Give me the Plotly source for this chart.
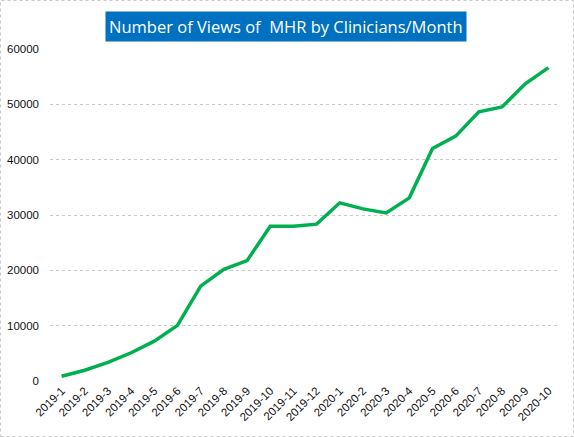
import plotly.graph_objects as go

months = ["2019-1", "2019-2", "2019-3", "2019-4", "2019-5", "2019-6", "2019-7",
          "2019-8", "2019-9", "2019-10", "2019-11", "2019-12", "2020-1", "2020-2",
          "2020-3", "2020-4", "2020-5", "2020-6", "2020-7", "2020-8", "2020-9", "2020-10"]
views = [860, 1950, 3350, 5100, 7200, 10050, 17150, 20170, 21750, 27970, 27980, 28350,
         32200, 31100, 30380, 33100, 42030, 44260, 48650, 49520, 53700, 56640]
y_ticks = [0, 10000, 20000, 30000, 40000, 50000, 60000]
y_labels = ["0", "10000", "20000", "30000", "40000", "50000", "60000"]
title_text = "Number of Views of\u00a0 MHR by Clinicians/Month"

fig = go.Figure()
fig.add_trace(go.Scatter(x=months, y=views, mode="lines",
                         line=dict(color="#00B050", width=3.5)))

fig.update_layout(
    width=574, height=437,
    margin=dict(l=50, r=14, t=49, b=56),
    paper_bgcolor="white", plot_bgcolor="white",
    showlegend=False,
    font=dict(family="Liberation Sans, Arial", size=11, color="#222222"),
    xaxis=dict(type="category", range=[-0.5, 21.5], tickangle=-45,
               showgrid=False, showline=False, ticks="", automargin=False,
               tickfont=dict(size=11.5, color="#111111")),
    yaxis=dict(range=[0, 60000], tickvals=y_ticks, ticktext=y_labels,
               showline=False, ticks="", automargin=False,
               gridcolor="#C8C8C8", griddash="dot", gridwidth=1,
               zeroline=False, ticklabelstandoff=10,
               tickfont=dict(size=11.5, color="#111111")),
)
fig.add_annotation(xref="paper", yref="paper", x=(286 - 50) / 510, y=1 + (49 - 26.5) / 332,
                   text=title_text, showarrow=False, xanchor="center", yanchor="middle",
                   bgcolor="#0070C0", font=dict(family="Open Sans", size=16.5, color="white"),
                   borderpad=3)
fig.add_shape(type="rect", xref="paper", yref="paper", x0=-49.5 / 510, x1=1 + 13.5 / 510,
              y0=-55.5 / 332, y1=1 + 48.5 / 332,
              line=dict(color="#C8C8C8", width=1, dash="dot"))
fig.write_html("out.html", config={"displayModeBar": False},
               post_script="document.body.style.margin='0';document.body.style.overflow='hidden';")
